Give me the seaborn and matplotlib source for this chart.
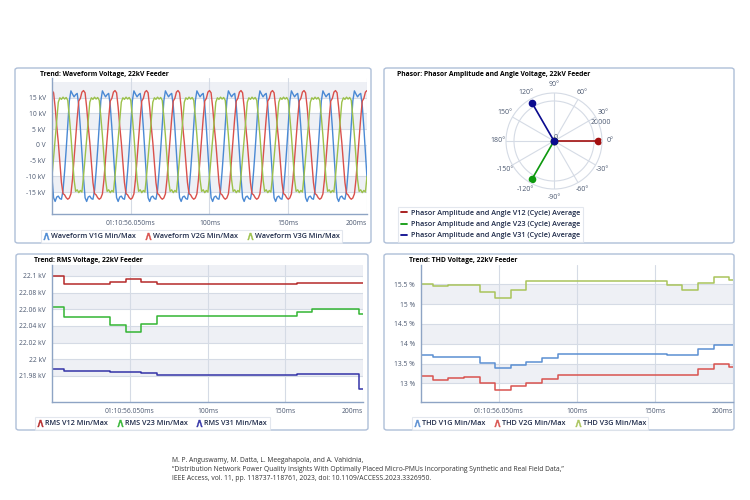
import numpy as np
import pandas as pd
import matplotlib
matplotlib.use("Agg")
import matplotlib.pyplot as plt
import seaborn as sns
from matplotlib.patches import FancyBboxPatch
from matplotlib.lines import Line2D

# ---------------- data ----------------
wave_ms = list(range(0, 201))
time_ticks_ms = [50, 100, 150, 200]
time_tick_labels = ["01:10:56.050ms", "100ms", "150ms", "200ms"]

# one 20 ms cycle (1 ms samples) of each phase; the trace shows 10 identical cycles
v1g_cycle_kv = [-10.5, -16.8, -18.0, -16.6, -16.3, -17.1, -17.3, -14.5, -8.5, -1.5,
                6.5, 14.0, 17.2, 16.2, 15.3, 16.0, 16.4, 12.5, 5.5, -2.5]
v2g_cycle_kv = [17.3, 16.6, 12.0, 6.0, 0.8, -5.5, -12.0, -15.5, -15.9, -16.8,
                -17.3, -16.9, -15.6, -11.0, -4.5, 2.0, 8.5, 14.0, 14.8, 16.8]
v3g_cycle_kv = [-10.0, -4.0, 2.0, 8.0, 13.6, 15.0, 14.5, 15.2, 14.6, 15.1,
                14.2, 9.0, 3.0, -4.0, -11.0, -14.8, -14.3, -15.2, -14.5, -15.0]
wave_cycles = 10
wave_series = ["Waveform V1G Min/Max", "Waveform V2G Min/Max", "Waveform V3G Min/Max"]
wave_ticks = [-15, -10, -5, 0, 5, 10, 15]
wave_tick_labels = ["-15 kV", "-10 kV", "-5 kV", "0 V", "5 kV", "10 kV", "15 kV"]

# phasors
phasor_series = ["Phasor Amplitude and Angle V12 (Cycle) Average",
                 "Phasor Amplitude and Angle V23 (Cycle) Average",
                 "Phasor Amplitude and Angle V31 (Cycle) Average"]
phasor_angle_deg = [0, -120, 120]
phasor_amp = [22091, 22052, 21982]
theta_labels = ["0°", "30°", "60°", "90°", "120°", "150°", "180°",
                "-150°", "-120°", "-90°", "-60°", "-30°"]

# cycle-based step data (ms)
step_ms = [0, 7.5, 17.5, 27.5, 37.5, 47.5, 57.5, 67.5, 77.5, 87.5, 97.5, 107.5,
           117.5, 127.5, 137.5, 147.5, 157.5, 167.5, 177.5, 187.5, 197.5, 200]

rms_series = ["RMS V12 Min/Max", "RMS V23 Min/Max", "RMS V31 Min/Max"]
rms_v12 = [22.1000, 22.0905, 22.0903, 22.0900, 22.0930, 22.0960, 22.0932, 22.0910,
           22.0910, 22.0910, 22.0910, 22.0910, 22.0910, 22.0910, 22.0910, 22.0910,
           22.0912, 22.0912, 22.0912, 22.0913, 22.0913, 22.0913]
rms_v23 = [22.0632, 22.0508, 22.0508, 22.0508, 22.0416, 22.0328, 22.0420, 22.0520,
           22.0520, 22.0520, 22.0520, 22.0520, 22.0520, 22.0520, 22.0520, 22.0520,
           22.0564, 22.0604, 22.0604, 22.0604, 22.0544, 22.0544]
rms_v31 = [21.9884, 21.9860, 21.9858, 21.9855, 21.9848, 21.9845, 21.9832, 21.9815,
           21.9815, 21.9815, 21.9815, 21.9815, 21.9815, 21.9815, 21.9815, 21.9815,
           21.9820, 21.9828, 21.9828, 21.9826, 21.9640, 21.9640]
rms_ticks = [21.98, 22.00, 22.02, 22.04, 22.06, 22.08, 22.10]
rms_tick_labels = ["21.98 kV", "22 kV", "22.02 kV", "22.04 kV", "22.06 kV", "22.08 kV", "22.1 kV"]

thd_series = ["THD V1G Min/Max", "THD V2G Min/Max", "THD V3G Min/Max"]
thd_v1g = [13.707, 13.657, 13.657, 13.657, 13.505, 13.379, 13.463, 13.547, 13.648,
           13.741, 13.741, 13.741, 13.741, 13.741, 13.741, 13.741, 13.724, 13.724,
           13.859, 13.976, 13.960, 13.960]
thd_v2g = [13.194, 13.084, 13.126, 13.168, 13.000, 12.832, 12.933, 13.017, 13.109,
           13.202, 13.202, 13.202, 13.202, 13.202, 13.202, 13.202, 13.202, 13.202,
           13.362, 13.497, 13.404, 13.404]
thd_v3g = [15.517, 15.466, 15.470, 15.480, 15.315, 15.146, 15.357, 15.576, 15.576,
           15.576, 15.576, 15.576, 15.576, 15.576, 15.576, 15.576, 15.475, 15.357,
           15.525, 15.694, 15.600, 15.600]
thd_ticks = [13.0, 13.5, 14.0, 14.5, 15.0, 15.5]
thd_tick_labels = ["13 %", "13.5 %", "14 %", "14.5 %", "15 %", "15.5 %"]

citation = ["M. P. Anguswamy, M. Datta, L. Meegahapola, and A. Vahidnia,",
            "\u201cDistribution Network Power Quality Insights With Optimally Placed Micro-PMUs Incorporating Synthetic and Real Field Data,\u201d",
            "IEEE Access, vol. 11, pp. 118737-118761, 2023, doi: 10.1109/ACCESS.2023.3326950."]

# ---------------- style ----------------
sns.set_theme(style="white")
plt.rcParams["font.family"] = ["Open Sans", "DejaVu Sans"]

W, H = 750, 500
TXT = "#4b5870"
LEG = "#1f2b4a"
GRID = "#d5dbe5"
BAND = "#eef0f5"
SPINE = "#8ea4c4"
BOX = "#aebfd8"

wave_pal = ["#4a89d4", "#d9504c", "#9cc14b"]
rms_pal = ["#b52a2a", "#33b533", "#3434a8"]
thd_pal = ["#5b8fd2", "#d9534f", "#a9c45b"]
phasor_pal = ["#a30f0f", "#0e9a0e", "#0b0b8f"]

fig = plt.figure(figsize=(7.5, 5), dpi=100)
fig.patch.set_facecolor("white")


def rect(x0, y0, x1, y1):
    return [x0 / W, 1 - y1 / H, (x1 - x0) / W, (y1 - y0) / H]


def panel_box(x0, y0, x1, y1):
    p = FancyBboxPatch((x0 / W, 1 - y1 / H), (x1 - x0) / W, (y1 - y0) / H,
                       boxstyle="round,pad=0,rounding_size=0.004", transform=fig.transFigure,
                       facecolor="none", edgecolor=BOX, linewidth=1.0, zorder=-5)
    fig.patches.append(p)


def title(x, y, s):
    fig.text(x / W, 1 - y / H, s, fontsize=4.85, fontweight="bold", color="black",
             ha="left", va="center")


def style_cart(ax, ticks, tick_labels, ylim):
    ax.set_xlim(0, 200)
    ax.set_ylim(*ylim)
    ax.set_facecolor("white")
    step = ticks[1] - ticks[0]
    edges = list(ticks) + [ticks[-1] + step]
    for i in range(0, len(edges) - 1, 2):
        ax.axhspan(edges[i], edges[i + 1], color=BAND, lw=0, zorder=0)
    ax.set_yticks(ticks)
    ax.set_yticklabels(tick_labels)
    ax.set_xticks(time_ticks_ms)
    ax.set_xticklabels(time_tick_labels)
    ax.get_xticklabels()[-1].set_ha("right")
    ax.grid(True, color=GRID, lw=0.8, zorder=0.5)
    ax.set_axisbelow(True)
    ax.tick_params(axis="both", length=3, width=0.8, color=GRID, labelsize=4.9,
                   labelcolor=TXT, pad=1.5)
    for s in ["top", "right"]:
        ax.spines[s].set_visible(False)
    for s in ["left", "bottom"]:
        ax.spines[s].set_color(SPINE)
        ax.spines[s].set_linewidth(1.0)
    ax.set_xlabel("")
    ax.set_ylabel("")


def chevron_legend(labels, colors, x, y, colspacing):
    handles = [Line2D([], [], marker=r"$\wedge$", linestyle="none", color=c,
                      markersize=5, markeredgewidth=0.3) for c in colors]
    leg = fig.legend(handles, labels, loc="center left", bbox_to_anchor=(x / W, 1 - y / H),
                     ncol=3, frameon=True, fancybox=False, fontsize=5.2,
                     handlelength=0.8, handletextpad=0.3, columnspacing=colspacing,
                     borderpad=0.35, borderaxespad=0)
    leg.get_frame().set_edgecolor("#dde2ea")
    leg.get_frame().set_linewidth(0.8)
    for t in leg.get_texts():
        t.set_color(LEG)
        t.set_fontweight("semibold")
    return leg


# panel frames
panel_box(15, 68, 371, 243)
panel_box(384, 68, 734, 243)
panel_box(16, 254, 368, 430)
panel_box(384, 254, 734, 430)

# ---------------- waveform ----------------
ax_w = fig.add_axes(rect(52, 78, 367, 214))
wave_vals = {}
for name, cyc in zip(wave_series, [v1g_cycle_kv, v2g_cycle_kv, v3g_cycle_kv]):
    wave_vals[name] = np.concatenate([np.tile(cyc, wave_cycles), cyc[:1]])
df_w = pd.DataFrame({"t": np.tile(wave_ms, 3),
                     "kV": np.concatenate([wave_vals[n] for n in wave_series]),
                     "series": np.repeat(wave_series, len(wave_ms))})
sns.lineplot(data=df_w, x="t", y="kV", hue="series", palette=wave_pal,
             estimator=None, lw=1.0, legend=False, ax=ax_w)
style_cart(ax_w, wave_ticks, wave_tick_labels, (-22.0, 21.3))
title(40, 74, "Trend: Waveform Voltage, 22kV Feeder")
chevron_legend(wave_series, wave_pal, 41, 236.5, 1.2)

# ---------------- phasor ----------------
ax_p = fig.add_axes(rect(506, 93, 602, 189), projection="polar")
rows = []
for name, ang, amp in zip(phasor_series, phasor_angle_deg, phasor_amp):
    rows.append({"theta": np.deg2rad(ang), "r": 0.0, "series": name})
    rows.append({"theta": np.deg2rad(ang), "r": amp, "series": name})
df_p = pd.DataFrame(rows)
sns.lineplot(data=df_p, x="theta", y="r", hue="series", palette=phasor_pal, sort=False,
             estimator=None, marker="o", markersize=5.5, markeredgewidth=0, lw=1.2,
             legend=False, ax=ax_p)
ax_p.set_ylim(0, 24000)
ax_p.set_thetagrids(np.arange(0, 360, 30), labels=theta_labels)
ax_p.set_rticks([0, 20000])
ax_p.set_yticklabels(["0", "20000"])
ax_p.set_rlabel_position(22)
ax_p.grid(True, color=GRID, lw=0.8)
ax_p.spines["polar"].set_color(GRID)
ax_p.spines["polar"].set_linewidth(0.8)
ax_p.tick_params(axis="x", labelsize=5.0, labelcolor=TXT, pad=-7)
ax_p.tick_params(axis="y", labelsize=5.0, labelcolor=TXT)
for t in ax_p.get_yticklabels():
    t.set_va("bottom")
ax_p.set_xlabel("")
ax_p.set_ylabel("")
ax_p.set_facecolor("white")
title(397, 74, "Phasor: Phasor Amplitude and Angle Voltage, 22kV Feeder")
ph = [Line2D([], [], color=c, lw=1.3) for c in phasor_pal]
leg_p = fig.legend(ph, phasor_series, loc="center left", bbox_to_anchor=(398 / W, 1 - 224.5 / H),
                   ncol=1, frameon=True, fancybox=False, fontsize=5.2, handlelength=0.9,
                   handletextpad=0.5, labelspacing=0.55, borderpad=0.4, borderaxespad=0)
leg_p.get_frame().set_edgecolor("#dde2ea")
leg_p.get_frame().set_linewidth(0.8)
for t in leg_p.get_texts():
    t.set_color(LEG)
    t.set_fontweight("semibold")

# ---------------- RMS ----------------
ax_r = fig.add_axes(rect(52, 265, 363, 402))
df_r = pd.DataFrame({"t": np.tile(step_ms, 3),
                     "kV": np.concatenate([rms_v12, rms_v23, rms_v31]),
                     "series": np.repeat(rms_series, len(step_ms))})
sns.lineplot(data=df_r, x="t", y="kV", hue="series", palette=rms_pal, estimator=None,
             drawstyle="steps-post", lw=1.1, legend=False, ax=ax_r)
style_cart(ax_r, rms_ticks, rms_tick_labels, (21.9488, 22.1132))
title(34, 260, "Trend: RMS Voltage, 22kV Feeder")
chevron_legend(rms_series, rms_pal, 35, 423.5, 1.2)

# ---------------- THD ----------------
ax_t = fig.add_axes(rect(421, 265, 733, 402))
df_t = pd.DataFrame({"t": np.tile(step_ms, 3),
                     "pct": np.concatenate([thd_v1g, thd_v2g, thd_v3g]),
                     "series": np.repeat(thd_series, len(step_ms))})
sns.lineplot(data=df_t, x="t", y="pct", hue="series", palette=thd_pal, estimator=None,
             drawstyle="steps-post", lw=1.1, legend=False, ax=ax_t)
style_cart(ax_t, thd_ticks, thd_tick_labels, (12.528, 15.987))
title(409, 260, "Trend: THD Voltage, 22kV Feeder")
chevron_legend(thd_series, thd_pal, 412, 423.5, 1.2)

# ---------------- citation ----------------
for i, line in enumerate(citation):
    fig.text(172 / W, 1 - (460 + 9.3 * i) / H, line, fontsize=4.9, color="#333333",
             ha="left", va="center")

fig.savefig("out.png", dpi=100, facecolor="white")
